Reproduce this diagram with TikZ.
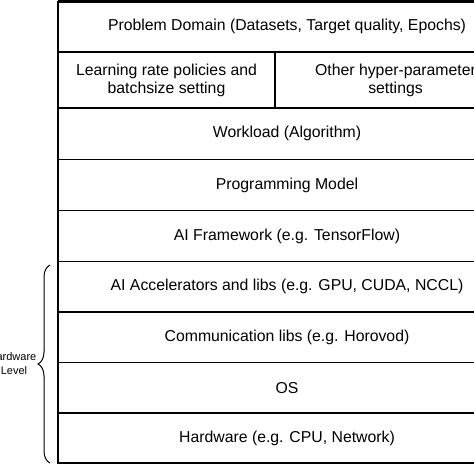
\documentclass[tikz,border=0pt]{standalone}
\usepackage{fontspec}
\setmainfont{Liberation Sans}
\usetikzlibrary{decorations.pathreplacing}
\begin{document}
\begin{tikzpicture}[x=1pt,y=-1pt,
  layer/.style={draw, line width=1.8pt, inner sep=0pt, outer sep=0pt, align=center,
    font=\fontsize{15.8}{18}\selectfont, minimum width=458pt},
  sidelabel/.style={inner sep=0pt, font=\fontsize{11}{13.5}\selectfont},
  bracestyle/.style={decorate, decoration={brace, amplitude=12pt}, line width=1pt}
]
\useasboundingbox (0,0) rectangle (474,474);
\fill[white] (0,0) rectangle (474,474);
\clip (0,0) rectangle (474,474);
% layers: tops/bottoms 1.5,52,108,159.5,210.5,261.5,312,362.5,413,463
\node[layer, minimum height=50.5pt] (dom) at (287,26.75) {Problem Domain (Datasets, Target quality, Epochs)};
\draw[line width=3pt] (dom.north west) -- (dom.north east);
\node[layer, minimum width=217pt, minimum height=56pt] (lr) at (166.5,80) {Learning rate policies and\\batchsize setting};
\node[layer, minimum width=241pt, minimum height=56pt] (hp) at (395.5,80) {Other hyper-parameter\\settings};
\node[layer, minimum height=51.5pt] (wl) at (287,133.75) {Workload (Algorithm)};
\node[layer, minimum height=51pt] (pm) at (287,185) {Programming Model};
\node[layer, minimum height=51pt] (fw) at (287,236) {AI Framework (e.g. TensorFlow)};
\node[layer, minimum height=50.5pt] (acc) at (287,286.75) {AI Accelerators and libs (e.g. GPU, CUDA, NCCL)};
\node[layer, minimum height=50.5pt] (com) at (287,337.25) {Communication libs (e.g. Horovod)};
\node[layer, minimum height=50.5pt] (os) at (287,387.75) {OS};
\node[layer, minimum height=50pt] (hw) at (287,438) {Hardware (e.g. CPU, Network)};
% brace
\coordinate (bb) at (50,463);
\coordinate (bt) at (50,265);
\draw[bracestyle] (bb) -- (bt);
\node[sidelabel, anchor=east] (lvl1) at (36.5,357) {ardware};
\node[sidelabel] (lvl2) at (14,371) {Level};
\end{tikzpicture}
\end{document}
